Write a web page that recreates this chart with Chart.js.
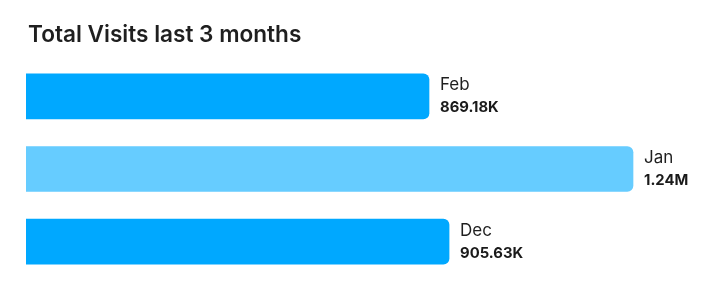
<!DOCTYPE html>
<html>
<head>
<meta charset="utf-8">
<script src="https://cdn.jsdelivr.net/npm/chart.js"></script>
<style>
  html, body { margin: 0; padding: 0; background: #fff; }
  #wrap { width: 703px; height: 288px; position: relative; }
</style>
</head>
<body>
<div id="wrap"><canvas id="visits"></canvas></div>
<script>
const months = ['Feb', 'Jan', 'Dec'];
const visits = [869180, 1240000, 905630];
const valueLabels = ['869.18K', '1.24M', '905.63K'];
const barColors = ['#00a8ff', '#66ccff', '#00a8ff'];
const titleText = 'Total Visits last 3 months';

// titles and end-of-bar labels
const labelPlugin = {
  id: 'barLabels',
  afterDatasetsDraw(chart) {
    const ctx = chart.ctx;
    ctx.save();
    ctx.fillStyle = '#1f1f1f';
    ctx.textBaseline = 'alphabetic';
    ctx.textAlign = 'left';
    ctx.font = '600 22.6px Inter';
    ctx.fillText(titleText, 28, 42);

    const meta = chart.getDatasetMeta(0);
    meta.data.forEach((bar, i) => {
      const x = bar.x + 11;
      ctx.fillStyle = '#1f1f1f';
      ctx.font = '400 17px Inter';
      ctx.fillText(months[i], x, bar.y - 6);
      ctx.fillStyle = '#1a1a1a';
      ctx.font = '700 14.8px Inter';
      ctx.fillText(valueLabels[i], x, bar.y + 16);
    });
    ctx.restore();
  }
};

new Chart(document.getElementById('visits').getContext('2d'), {
  type: 'bar',
  data: {
    labels: months,
    datasets: [{
      data: visits,
      backgroundColor: barColors,
      borderRadius: 6,
      borderSkipped: 'start',
      barThickness: 45
    }]
  },
  options: {
    indexAxis: 'y',
    responsive: true,
    maintainAspectRatio: false,
    animation: false,
    layout: { padding: { left: 26, right: 13, top: 60, bottom: 10 } },
    scales: {
      x: { display: false, min: 136600, max: 1343600, grid: { display: false } },
      y: { display: false, grid: { display: false } }
    },
    plugins: {
      legend: { display: false },
      tooltip: { enabled: false }
    }
  },
  plugins: [labelPlugin]
});
</script>
</body>
</html>
